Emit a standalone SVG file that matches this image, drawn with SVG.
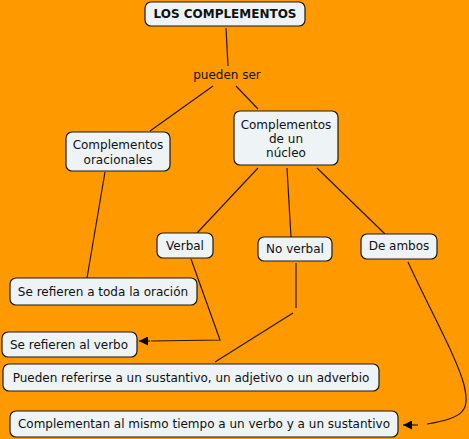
<svg xmlns="http://www.w3.org/2000/svg" width="469" height="439" viewBox="0 0 469 439">
<defs>
<style>
.box{fill:#eef3f5;stroke:#1a1a1a;stroke-width:1.2}
.t{font-family:"DejaVu Sans",Verdana,sans-serif;font-size:12px;fill:#111;text-anchor:middle}
.b{font-weight:bold;font-size:12px}
.ln{stroke:#2a1600;stroke-width:1.2;fill:none}
</style>
<marker id="ah" viewBox="0 0 10 10" refX="10" refY="5" markerWidth="13" markerHeight="9" markerUnits="userSpaceOnUse" orient="auto">
<path d="M0,0 L10,5 L0,10 z" fill="#000"/>
</marker>
</defs>
<rect width="469" height="439" fill="#ff9900"/>
<g id="connectors">
<line class="ln" x1="226" y1="28" x2="228" y2="66"/>
<line class="ln" x1="213" y1="86" x2="150" y2="131"/>
<line class="ln" x1="236" y1="86" x2="258" y2="109"/>
<line class="ln" x1="258" y1="168" x2="197" y2="233"/>
<line class="ln" x1="287" y1="168" x2="291" y2="237"/>
<line class="ln" x1="317" y1="168" x2="385" y2="234"/>
<line class="ln" x1="105" y1="172" x2="87" y2="278"/>
<polyline class="ln" points="191,259 220,340 151,341"/>
<line class="ln" x1="150" y1="341" x2="139" y2="341" marker-end="url(#ah)"/>
<line class="ln" x1="296" y1="263" x2="296" y2="308"/>
<line class="ln" x1="293" y1="313" x2="215" y2="362"/>
<path class="ln" d="M408,262 C430,310 458,360 464,385 C470,410 465,418 427,424"/>
<line class="ln" x1="418" y1="425" x2="403" y2="425" marker-end="url(#ah)"/>
</g>
<g id="n-title"><rect class="box" x="145" y="2" width="160" height="24" rx="6"/><text class="t b" x="225" y="18">LOS COMPLEMENTOS</text></g>
<g id="n-pueden"><text class="t" x="227" y="79">pueden ser</text></g>
<g id="n-oracionales"><rect class="box" x="66" y="132" width="104" height="39" rx="6"/><text class="t" x="118" y="149">Complementos</text><text class="t" x="118" y="164">oracionales</text></g>
<g id="n-nucleo"><rect class="box" x="234" y="111" width="104" height="54" rx="6"/><text class="t" x="286" y="129">Complementos</text><text class="t" x="286" y="143">de un</text><text class="t" x="286" y="157">núcleo</text></g>
<g id="n-verbal"><rect class="box" x="157" y="233" width="56" height="25" rx="6"/><text class="t" x="185" y="250">Verbal</text></g>
<g id="n-noverbal"><rect class="box" x="258" y="237" width="74" height="24" rx="6"/><text class="t" x="295" y="253">No verbal</text></g>
<g id="n-ambos"><rect class="box" x="361" y="234" width="76" height="25" rx="6"/><text class="t" x="399" y="250">De ambos</text></g>
<g id="n-toda"><rect class="box" x="10" y="278" width="187" height="27" rx="6"/><text class="t" x="103" y="296">Se refieren a toda la oración</text></g>
<g id="n-verbo"><rect class="box" x="2" y="332" width="135" height="25" rx="6"/><text class="t" x="69" y="349">Se refieren al verbo</text></g>
<g id="n-pueden-ref"><rect class="box" x="3" y="364" width="376" height="27" rx="6"/><text class="t" x="191" y="382">Pueden referirse a un sustantivo, un adjetivo o un adverbio</text></g>
<g id="n-complementan"><rect class="box" x="10" y="411" width="388" height="26" rx="6"/><text class="t" x="204" y="428">Complementan al mismo tiempo a un verbo y a un sustantivo</text></g>
</svg>
